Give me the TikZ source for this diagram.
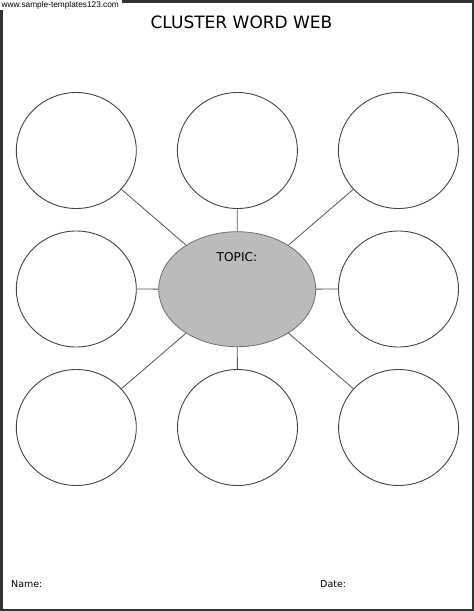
\documentclass[tikz,border=0pt]{standalone}
\usepackage{fontspec}
\usetikzlibrary{shapes.geometric}
\newfontfamily\dejavu{DejaVu Sans}
\newfontfamily\libsans{Liberation Sans}
\definecolor{framec}{HTML}{333333}
\definecolor{circc}{HTML}{444444}
\definecolor{connc}{HTML}{555555}
\definecolor{topicfill}{HTML}{BBBBBB}
\definecolor{topicline}{HTML}{707070}
\begin{document}
\begin{tikzpicture}[x=1pt,y=-1pt,
  bubble/.style={ellipse, draw=circc, line width=0.9pt, fill=white, minimum width=120pt, minimum height=116pt, inner sep=0pt},
  topicbox/.style={ellipse, draw=topicline, line width=0.8pt, fill=topicfill, minimum width=157pt, minimum height=115pt, inner sep=0pt},
  conn/.style={draw=connc, line width=0.8pt},
  lbl/.style={inner sep=0pt, font=\dejavu}]
\useasboundingbox (0,0) rectangle (474,611);
\fill[framec] (0,0) rectangle (474,611);
\fill[white] (3,3) rectangle (472,608.5);
\fill[white] (0,0) rectangle (122,10);
% watermark
\node[inner sep=0pt, anchor=base west, font=\libsans\fontsize{8.3}{9}\selectfont] (wm) at (1.5,7.6) {www.sample-templates123.com};
% title
\node[lbl, anchor=base, font=\dejavu\fontsize{17}{20}\selectfont] (title) at (241.5,28.3) {CLUSTER WORD WEB};
% central topic
\node[topicbox] (topic) at (237.2,289.2) {};
% circles
\node[bubble] (tl) at (76.3,150.5) {};
\node[bubble] (tm) at (237.4,150.5) {};
\node[bubble] (tr) at (398.4,150.5) {};
\node[bubble] (ml) at (76.3,289) {};
\node[bubble] (mr) at (398.5,289) {};
\node[bubble] (bl) at (76.3,427.5) {};
\node[bubble] (bm) at (237.5,427.5) {};
\node[bubble] (br) at (398.6,427.5) {};
% connectors
\foreach \c in {tl,tm,tr,ml,mr,bl,bm,br}{
  \draw[conn] (\c) -- (topic);
}
\node[lbl, anchor=base, font=\dejavu\fontsize{12.2}{14}\selectfont] (topiclabel) at (237,261) {TOPIC:};
% footer
\node[lbl, anchor=base west, font=\dejavu\fontsize{9.5}{11}\selectfont] (name) at (11,587) {Name:};
\node[lbl, anchor=base west, font=\dejavu\fontsize{9.5}{11}\selectfont] (date) at (320,587) {Date:};
\end{tikzpicture}
\end{document}
